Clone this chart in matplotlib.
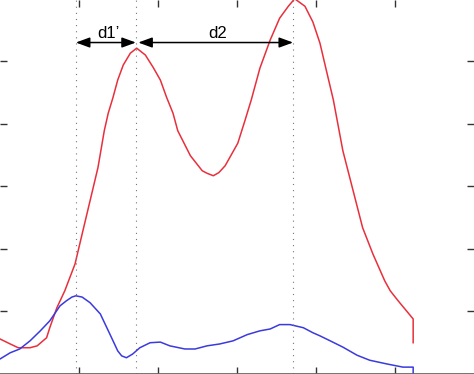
import matplotlib.pyplot as plt

# ==================== 数据 ====================
red_x = [0.00, 0.13, 0.23, 0.38, 0.47, 0.59, 0.63, 0.72, 0.82, 0.95, 1.04, 1.14, 1.24,
         1.32, 1.37, 1.43, 1.49, 1.56, 1.65, 1.73, 1.84, 1.94, 2.03, 2.11, 2.19, 2.25,
         2.41, 2.56, 2.62, 2.70, 2.77, 2.85, 3.01, 3.10, 3.18, 3.29, 3.42, 3.54, 3.65,
         3.73, 3.86, 3.96, 4.05, 4.13, 4.22, 4.34, 4.47, 4.59, 4.72, 4.87, 4.94, 5.04,
         5.23, 5.23]
red_y = [0.56, 0.48, 0.42, 0.42, 0.45, 0.58, 0.74, 1.06, 1.33, 1.76, 2.24, 2.77, 3.30,
         3.89, 4.17, 4.42, 4.70, 4.94, 5.13, 5.21, 5.10, 4.90, 4.70, 4.42, 4.17, 3.89,
         3.49, 3.25, 3.21, 3.17, 3.22, 3.33, 3.69, 4.05, 4.38, 4.89, 5.34, 5.69, 5.88,
         6.00, 5.88, 5.63, 5.29, 4.86, 4.38, 3.57, 2.93, 2.34, 1.92, 1.49, 1.33, 1.17,
         0.88, 0.50]

blue_x = [0.00, 0.13, 0.25, 0.38, 0.51, 0.63, 0.76, 0.84, 0.91, 0.96, 1.04, 1.14, 1.27,
          1.39, 1.49, 1.54, 1.60, 1.68, 1.77, 1.90, 2.03, 2.15, 2.34, 2.47, 2.62, 2.78,
          2.95, 3.13, 3.29, 3.42, 3.54, 3.67, 3.84, 3.96, 4.05, 4.18, 4.34, 4.52, 4.68,
          4.90, 5.10, 5.23, 5.23]
blue_y = [0.24, 0.34, 0.40, 0.53, 0.69, 0.85, 1.09, 1.17, 1.23, 1.25, 1.23, 1.14, 0.96,
          0.64, 0.37, 0.29, 0.26, 0.32, 0.42, 0.50, 0.51, 0.45, 0.40, 0.40, 0.45, 0.48,
          0.53, 0.63, 0.69, 0.72, 0.79, 0.79, 0.74, 0.66, 0.61, 0.53, 0.43, 0.30, 0.22,
          0.16, 0.11, 0.11, 0.00]

# 三条竖直虚线的位置
marks = [0.96, 1.72, 3.71]

# 两个距离标注：(起点, 终点, 文字)
spans = [(0.96, 1.72, "d1’"), (1.75, 3.71, "d2")]
span_y = 5.30

# ==================== 画图 ====================
fig = plt.figure(figsize=(4.74, 3.74), dpi=100)
ax = fig.add_axes([0, 0, 1, 1])

ax.plot(red_x, red_y, color='#e8303c', lw=1.1)
ax.plot(blue_x, blue_y, color='#3a3ade', lw=1.1)

for m in marks:
    ax.axvline(m, color='#777777', lw=0.8, linestyle=(0, (1, 4.5)))

for x0, x1, label in spans:
    ax.annotate('', xy=(x1, span_y), xytext=(x0, span_y),
                arrowprops=dict(arrowstyle='<|-|>,head_length=0.6,head_width=0.22',
                                color='black', lw=1.1, mutation_scale=14,
                                shrinkA=0, shrinkB=0))
    ax.text((x0 + x1) / 2 + 0.03, span_y + 0.15, label, ha='center', va='center',
            fontsize=12, family='Liberation Sans')

ax.set_xlim(0, 6)
ax.set_ylim(0, 5.98)
ax.set_xticks([1, 2, 3, 4, 5])
ax.set_yticks([1, 2, 3, 4, 5])
ax.tick_params(direction='in', top=True, right=True, length=5, width=1,
               color='#333333', labelbottom=False, labelleft=False)

for side in ['left', 'right', 'top']:
    ax.spines[side].set_visible(False)
ax.spines['bottom'].set_color('#666666')
ax.spines['bottom'].set_linewidth(2)

plt.savefig('out.png', dpi=100)
